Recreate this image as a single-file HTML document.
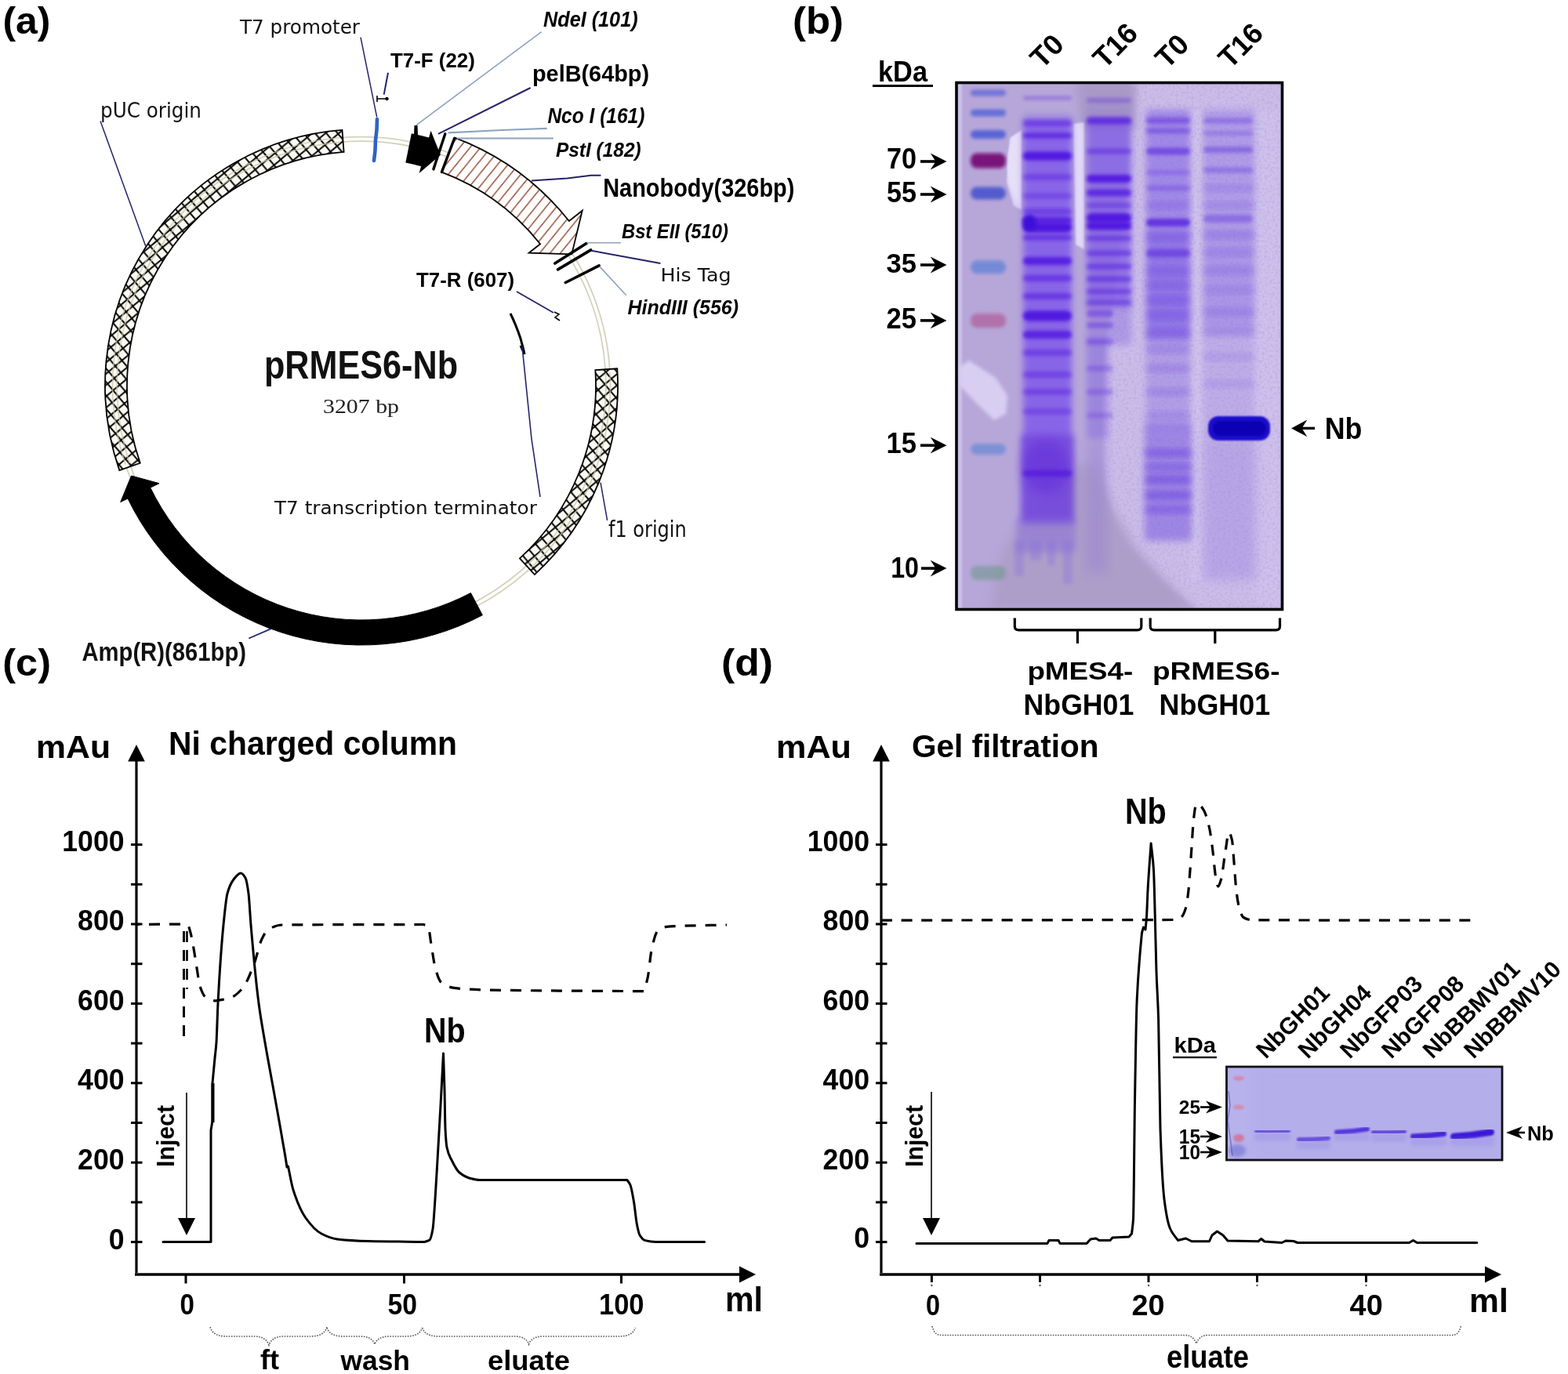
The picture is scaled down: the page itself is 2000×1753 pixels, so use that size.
<!DOCTYPE html>
<html><head><meta charset="utf-8"><title>Figure</title>
<style>html,body{margin:0;padding:0;background:#fff;} svg{display:block;}</style></head>
<body><svg width="2000" height="1753" viewBox="0 0 2000 1753">
<rect width="2000" height="1753" fill="#fff"/>
<defs>
<pattern id="xh" patternUnits="userSpaceOnUse" width="15.6" height="15.6" patternTransform="rotate(5)">
<rect width="15.6" height="15.6" fill="#fafaf3"/>
<path d="M0,0 L15.6,15.6 M15.6,0 L0,15.6 M-1,14.6 L1,16.6 M14.6,-1 L16.6,1" stroke="#000" stroke-width="1.9"/>
</pattern>
<pattern id="dh" patternUnits="userSpaceOnUse" width="14.5" height="14.5" patternTransform="rotate(-6)">
<rect width="14.5" height="14.5" fill="#fffdfb"/>
<path d="M0,14.5 L14.5,0 M-1,1 L1,-1 M13.5,15.5 L15.5,13.5" stroke="#8a4634" stroke-width="1.4"/>
</pattern>
</defs>
<circle cx="461.0" cy="492.0" r="311.8" fill="none" stroke="#d4d1bb" stroke-width="1.8"/>
<circle cx="461.0" cy="492.0" r="317.4" fill="none" stroke="#d4d1bb" stroke-width="1.8"/>
<path d="M152.38,600.08 A327,327 0 0 1 436.48,165.92 L438.58,193.84 A299,299 0 0 0 178.80,590.82 Z" fill="url(#xh)" stroke="#000" stroke-width="1.8"/>
<path d="M787.28,470.33 A327,327 0 0 1 681.92,733.09 L663.00,712.45 A299,299 0 0 0 759.34,472.18 Z" fill="url(#xh)" stroke="#000" stroke-width="1.8"/>
<path d="M165.3,590.9 A311.8,311.8 0 0 1 433.8,181.4" fill="none" stroke="#c9c5a8" stroke-width="1.6" opacity="0.75"/>
<path d="M772.4,475.7 A311.8,311.8 0 0 1 673.6,720.0" fill="none" stroke="#c9c5a8" stroke-width="1.6" opacity="0.75"/>
<path d="M160.0,592.7 A317.4,317.4 0 0 1 433.3,175.8" fill="none" stroke="#c9c5a8" stroke-width="1.6" opacity="0.75"/>
<path d="M778.0,475.4 A317.4,317.4 0 0 1 677.5,724.1" fill="none" stroke="#c9c5a8" stroke-width="1.6" opacity="0.75"/>
<path d="M615.37,784.80 A331,331 0 0 1 162.99,636.06 L153.72,640.54 L167.53,607.01 L203.06,616.69 L191.80,622.13 A299,299 0 0 0 600.45,756.49 Z" fill="#000" stroke="#000" stroke-width="1"/>
<path d="M579.92,175.61 A338,338 0 0 1 725.89,282.05 L742.74,268.70 L729.24,324.39 L674.56,322.74 L689.05,311.25 A291,291 0 0 0 563.39,219.61 Z" fill="url(#dh)" stroke="#000" stroke-width="1.8" stroke-linejoin="miter"/>
<path d="M525.63,171.45 A327,327 0 0 1 547.84,176.74 L549.70,169.99 L560.71,197.42 L536.42,218.20 L538.28,211.45 A291,291 0 0 0 518.52,206.74 Z" fill="#000" stroke="#000" stroke-width="2"/>
<path d="M528,172 L528.5,160 L532.5,160 L533,172 Z" fill="#000"/>
<line x1="552.9" y1="215.9" x2="567.8" y2="170.8" stroke="#000" stroke-width="3.4" stroke-linecap="round"/>
<line x1="563.4" y1="219.6" x2="579.6" y2="176.5" stroke="#000" stroke-width="3.4" stroke-linecap="round"/>
<line x1="707.8" y1="336.0" x2="748.0" y2="310.6" stroke="#000" stroke-width="3.6" stroke-linecap="round"/>
<line x1="711.5" y1="343.9" x2="753.7" y2="318.9" stroke="#000" stroke-width="3.6" stroke-linecap="round"/>
<line x1="721.3" y1="360.5" x2="764.1" y2="338.9" stroke="#000" stroke-width="3.6" stroke-linecap="round"/>
<path d="M481,152 L480.5,166 L479,179 L478.5,192 L477,205" fill="none" stroke="#2f63c6" stroke-width="4.6" stroke-linecap="round"/>
<path d="M481,122 L481,130 M481,126 L494,126" stroke="#000" stroke-width="1.6" fill="none"/>
<circle cx="493.5" cy="126" r="2.2" fill="#000"/>
<path d="M707,398 L713,401 L708,405 L714,409" stroke="#000" stroke-width="1.6" fill="none"/>
<path d="M651,400 C656,410 660,420 664,432 C666,440 668,446 669,452 M664,441 L669,452" stroke="#000" stroke-width="3" fill="none"/>
<path d="M460.0,47.7 L480.7,149.4" fill="none" stroke="#23236b" stroke-width="1.5"/>
<path d="M495.0,92.7 L489.7,120.6" fill="none" stroke="#23236b" stroke-width="2"/>
<path d="M690.6,40.6 L531.0,159.6" fill="none" stroke="#8da2bd" stroke-width="1.6"/>
<path d="M676.6,112.0 L559.0,170.8" fill="none" stroke="#23236b" stroke-width="2.0"/>
<path d="M571.6,169.4 L640.0,166.0 L697.6,163.8" fill="none" stroke="#8da2bd" stroke-width="2.2"/>
<path d="M582.8,176.4 L706.0,176.4" fill="none" stroke="#8da2bd" stroke-width="2.0"/>
<path d="M678.0,230.4 L723.6,227.6 L754.0,223.8 L766.4,223.8" fill="none" stroke="#23236b" stroke-width="2.0"/>
<path d="M748.3,309.8 L792.0,309.8" fill="none" stroke="#8da2bd" stroke-width="1.6"/>
<path d="M754.0,319.7 L842.4,335.9" fill="none" stroke="#23236b" stroke-width="2.0"/>
<path d="M765.4,340.6 L798.7,376.7" fill="none" stroke="#8da2bd" stroke-width="1.6"/>
<path d="M659.0,372.0 L706.0,399.0" fill="none" stroke="#23236b" stroke-width="1.8"/>
<path d="M666.0,442.0 L678.0,560.0 L689.0,634.0" fill="none" stroke="#23236b" stroke-width="1.6"/>
<path d="M128.0,154.4 L185.7,313.8" fill="none" stroke="#23236b" stroke-width="1.5"/>
<path d="M766.0,615.7 L774.6,664.0" fill="none" stroke="#23236b" stroke-width="1.5"/>
<path d="M345.3,802.3 L317.3,814.5" fill="none" stroke="#23236b" stroke-width="1.8"/>
<text x="306.0" y="43.2" font-family="'DejaVu Sans', Verdana, sans-serif" font-size="24.69" font-weight="normal" fill="#111" textLength="153.0" lengthAdjust="spacingAndGlyphs">T7 promoter</text>
<text x="498.0" y="85.5" font-family="'Liberation Sans', Arial, sans-serif" font-size="26.16" font-weight="bold" fill="#000" textLength="107.8" lengthAdjust="spacingAndGlyphs">T7-F (22)</text>
<text x="693.0" y="33.6" font-family="'Liberation Sans', Arial, sans-serif" font-size="26.74" font-weight="bold" font-style="italic" fill="#000" textLength="120.6" lengthAdjust="spacingAndGlyphs">NdeI (101)</text>
<text x="679.0" y="104.0" font-family="'Liberation Sans', Arial, sans-serif" font-size="30.23" font-weight="bold" fill="#000" textLength="149.0" lengthAdjust="spacingAndGlyphs">pelB(64bp)</text>
<text x="698.4" y="156.8" font-family="'Liberation Sans', Arial, sans-serif" font-size="26.74" font-weight="bold" font-style="italic" fill="#000" textLength="124.0" lengthAdjust="spacingAndGlyphs">Nco I (161)</text>
<text x="709.0" y="200.0" font-family="'Liberation Sans', Arial, sans-serif" font-size="25.58" font-weight="bold" font-style="italic" fill="#000" textLength="108.6" lengthAdjust="spacingAndGlyphs">PstI (182)</text>
<text x="769.2" y="251.3" font-family="'Liberation Sans', Arial, sans-serif" font-size="33.14" font-weight="bold" fill="#000" textLength="244.2" lengthAdjust="spacingAndGlyphs">Nanobody(326bp)</text>
<text x="793.0" y="303.6" font-family="'Liberation Sans', Arial, sans-serif" font-size="26.31" font-weight="bold" font-style="italic" fill="#000" textLength="135.8" lengthAdjust="spacingAndGlyphs">Bst EII (510)</text>
<text x="842.4" y="358.7" font-family="'DejaVu Sans', Verdana, sans-serif" font-size="22.22" font-weight="normal" fill="#111" textLength="90.2" lengthAdjust="spacingAndGlyphs">His Tag</text>
<text x="800.5" y="400.5" font-family="'Liberation Sans', Arial, sans-serif" font-size="26.31" font-weight="bold" font-style="italic" fill="#000" textLength="141.5" lengthAdjust="spacingAndGlyphs">HindIII (556)</text>
<text x="531.0" y="366.0" font-family="'Liberation Sans', Arial, sans-serif" font-size="26.16" font-weight="bold" fill="#000" textLength="125.0" lengthAdjust="spacingAndGlyphs">T7-R (607)</text>
<text x="337.0" y="483.0" font-family="'Liberation Sans', Arial, sans-serif" font-size="50.87" font-weight="bold" fill="#111" textLength="247.0" lengthAdjust="spacingAndGlyphs">pRMES6-Nb</text>
<text x="412" y="527" font-family="'Liberation Serif', Georgia, serif" font-size="25" fill="#222" textLength="97" lengthAdjust="spacingAndGlyphs">3207 bp</text>
<text x="128.0" y="149.8" font-family="'DejaVu Sans', Verdana, sans-serif" font-size="25.79" font-weight="normal" fill="#111" textLength="129.0" lengthAdjust="spacingAndGlyphs">pUC origin</text>
<text x="350.0" y="655.6" font-family="'DejaVu Sans', Verdana, sans-serif" font-size="23.46" font-weight="normal" fill="#111" textLength="334.8" lengthAdjust="spacingAndGlyphs">T7 transcription terminator</text>
<text x="776.0" y="685.0" font-family="'DejaVu Sans', Verdana, sans-serif" font-size="27.63" font-weight="normal" fill="#111" textLength="99.7" lengthAdjust="spacingAndGlyphs">f1 origin</text>
<text x="104.4" y="843.0" font-family="'Liberation Sans', Arial, sans-serif" font-size="32.70" font-weight="bold" fill="#111" textLength="209.6" lengthAdjust="spacingAndGlyphs">Amp(R)(861bp)</text>
<defs>
<filter id="b1" x="-20%" y="-50%" width="140%" height="200%"><feGaussianBlur stdDeviation="1.2"/></filter>
<filter id="b2" x="-20%" y="-80%" width="140%" height="260%"><feGaussianBlur stdDeviation="2.2"/></filter>
<filter id="b3" x="-20%" y="-50%" width="140%" height="200%"><feGaussianBlur stdDeviation="4"/></filter>
<filter id="b6" x="-30%" y="-30%" width="160%" height="160%"><feGaussianBlur stdDeviation="7"/></filter>
<filter id="speck" x="0" y="0" width="100%" height="100%">
<feTurbulence type="fractalNoise" baseFrequency="0.3" numOctaves="2" seed="7" result="n"/>
<feColorMatrix type="matrix" values="0 0 0 0 0.45  0 0 0 0 0.35  0 0 0 0 0.75  0 0 0 -2.2 1.25" in="n"/>
</filter>
<clipPath id="gclip"><rect x="1220.5" y="106" width="414.5" height="671"/></clipPath>
</defs>
<g clip-path="url(#gclip)">
<rect x="1220.5" y="106" width="414.5" height="671" fill="#b7a7d9"/>
<rect x="1221" y="106" width="6" height="671" fill="#d3c8f0" opacity="0.8" filter="url(#b1)"/>
<path d="M1440,106 L1635,106 L1635,777 L1527,777 L1487,745 L1432,690 L1410,630 L1407,520 L1410,440 L1422,372 L1440,214 Z" fill="#cbbde8" filter="url(#b2)"/>
<path d="M1372,106 L1450,106 L1448,165 L1380,165 Z" fill="#a898c6" opacity="0.8" filter="url(#b3)"/>
<path d="M1355,600 L1398,590 L1420,650 L1450,700 L1520,777 L1262,777 L1280,700 Z" fill="#ac9cc8" opacity="0.9" filter="url(#b6)"/>
<path d="M1288,176 L1303,166 L1303,268 L1293,262 L1284,232 Z" fill="#ddd3f6" filter="url(#b1)"/>
<path d="M1223,468 L1236,460 L1270,482 L1285,505 L1283,528 L1268,536 L1246,515 L1224,492 Z" fill="#d8cef2" filter="url(#b2)"/>
<rect x="1519" y="140" width="14" height="600" fill="#d2c5ec" opacity="0.8" filter="url(#b2)"/>
<rect x="1600" y="140" width="32" height="637" fill="#d0c3ee" opacity="0.7" filter="url(#b3)"/>
<clipPath id="spclip"><path d="M1440,106 L1635,106 L1635,777 L1527,777 L1487,745 L1432,690 L1410,630 L1407,520 L1410,440 L1422,372 L1440,214 Z"/></clipPath>
<g opacity="0.6" clip-path="url(#spclip)"><rect x="1400" y="106" width="235" height="671" filter="url(#speck)"/></g>
<path d="M1369,158 L1383,156 L1383,318 L1372,312 Z" fill="#e2dbf7" filter="url(#b1)"/>
<path d="M1290,176 L1302,168 L1302,265 L1287,235 L1284,205 Z" fill="#e6dff8" filter="url(#b1)"/>
<rect x="1383" y="108" width="62" height="52" fill="#a898c8" opacity="0.55" filter="url(#b3)"/>
<rect x="1305" y="145" width="62" height="15" rx="4" fill="#9a86dc" opacity="0.55" filter="url(#b3)"/>
<rect x="1305" y="152" width="62" height="408" rx="4" fill="#7d55ea" opacity="0.8" filter="url(#b3)"/>
<rect x="1302" y="555" width="68" height="113" rx="4" fill="#6a3ade" opacity="0.8" filter="url(#b3)"/>
<rect x="1296" y="660" width="76" height="45" rx="4" fill="#8466dc" opacity="0.45" filter="url(#b3)"/>
<rect x="1294" y="690" width="12" height="45" rx="4" fill="#8a70dc" opacity="0.35" filter="url(#b2)"/>
<rect x="1314" y="690" width="14" height="25" rx="4" fill="#8a70dc" opacity="0.35" filter="url(#b2)"/>
<rect x="1336" y="690" width="10" height="32" rx="4" fill="#8a70dc" opacity="0.35" filter="url(#b2)"/>
<rect x="1356" y="690" width="12" height="55" rx="4" fill="#8a70dc" opacity="0.35" filter="url(#b2)"/>
<rect x="1386" y="130" width="57" height="20" rx="4" fill="#9a86cc" opacity="0.45" filter="url(#b3)"/>
<rect x="1386" y="150" width="57" height="242" rx="4" fill="#7d58e6" opacity="0.72" filter="url(#b3)"/>
<rect x="1386" y="385" width="57" height="55" rx="4" fill="#8466e0" opacity="0.4" filter="url(#b3)"/>
<rect x="1386" y="430" width="28" height="130" rx="4" fill="#7d5ee0" opacity="0.45" filter="url(#b3)"/>
<rect x="1386" y="560" width="26" height="170" rx="4" fill="#8a70d8" opacity="0.3" filter="url(#b6)"/>
<rect x="1462" y="140" width="56" height="160" rx="4" fill="#7f5fe4" opacity="0.55" filter="url(#b3)"/>
<rect x="1462" y="295" width="56" height="140" rx="4" fill="#7654e4" opacity="0.68" filter="url(#b3)"/>
<rect x="1462" y="430" width="56" height="115" rx="4" fill="#8a70e2" opacity="0.4" filter="url(#b3)"/>
<rect x="1460" y="540" width="60" height="150" rx="4" fill="#7a5ae0" opacity="0.55" filter="url(#b3)"/>
<rect x="1535" y="140" width="65" height="160" rx="4" fill="#8a6ee4" opacity="0.42" filter="url(#b3)"/>
<rect x="1535" y="295" width="65" height="130" rx="4" fill="#8468e4" opacity="0.45" filter="url(#b3)"/>
<rect x="1535" y="420" width="65" height="140" rx="4" fill="#9a84e4" opacity="0.28" filter="url(#b3)"/>
<rect x="1535" y="560" width="67" height="180" rx="4" fill="#8f76e0" opacity="0.32" filter="url(#b6)"/>
<rect x="1305.0" y="122.5" width="62.0" height="5.0" rx="2.5" fill="#5016e0" opacity="0.30" filter="url(#b2)"/>
<rect x="1305.0" y="153.0" width="62.0" height="8.0" rx="4.0" fill="#5016e0" opacity="0.45" filter="url(#b2)"/>
<rect x="1305.0" y="169.5" width="62.0" height="7.0" rx="3.5" fill="#5016e0" opacity="0.70" filter="url(#b2)"/>
<rect x="1305.0" y="193.5" width="62.0" height="11.0" rx="5.5" fill="#5016e0" opacity="0.95" filter="url(#b2)"/>
<rect x="1305.0" y="222.0" width="62.0" height="8.0" rx="4.0" fill="#5016e0" opacity="0.40" filter="url(#b2)"/>
<rect x="1305.0" y="246.5" width="62.0" height="7.0" rx="3.5" fill="#5016e0" opacity="0.35" filter="url(#b2)"/>
<rect x="1305.0" y="266.0" width="62.0" height="8.0" rx="4.0" fill="#5016e0" opacity="0.45" filter="url(#b2)"/>
<rect x="1305.0" y="276.5" width="62.0" height="9.0" rx="4.5" fill="#5016e0" opacity="0.80" filter="url(#b2)"/>
<rect x="1305.0" y="283.5" width="62.0" height="13.0" rx="6.5" fill="#5016e0" opacity="1.00" filter="url(#b2)"/>
<rect x="1305.0" y="299.5" width="62.0" height="7.0" rx="3.5" fill="#5016e0" opacity="0.60" filter="url(#b2)"/>
<rect x="1305.0" y="328.0" width="62.0" height="10.0" rx="5.0" fill="#5016e0" opacity="0.85" filter="url(#b2)"/>
<rect x="1305.0" y="351.0" width="62.0" height="8.0" rx="4.0" fill="#5016e0" opacity="0.55" filter="url(#b2)"/>
<rect x="1305.0" y="374.0" width="62.0" height="8.0" rx="4.0" fill="#5016e0" opacity="0.55" filter="url(#b2)"/>
<rect x="1305.0" y="396.5" width="62.0" height="13.0" rx="6.5" fill="#5016e0" opacity="0.95" filter="url(#b2)"/>
<rect x="1305.0" y="422.0" width="62.0" height="10.0" rx="5.0" fill="#5016e0" opacity="0.80" filter="url(#b2)"/>
<rect x="1305.0" y="446.0" width="62.0" height="8.0" rx="4.0" fill="#5016e0" opacity="0.45" filter="url(#b2)"/>
<rect x="1305.0" y="474.0" width="62.0" height="8.0" rx="4.0" fill="#5016e0" opacity="0.40" filter="url(#b2)"/>
<rect x="1305.0" y="496.0" width="62.0" height="8.0" rx="4.0" fill="#5016e0" opacity="0.40" filter="url(#b2)"/>
<rect x="1305.0" y="521.0" width="62.0" height="8.0" rx="4.0" fill="#5016e0" opacity="0.35" filter="url(#b2)"/>
<rect x="1305.0" y="600.0" width="62.0" height="8.0" rx="4.0" fill="#5016e0" opacity="0.75" filter="url(#b2)"/>
<ellipse cx="1313" cy="284" rx="9" ry="10" fill="#3a0cd8" opacity="0.9" filter="url(#b2)"/>
<ellipse cx="1334" cy="595" rx="30" ry="34" fill="#5a1ad8" opacity="0.4" filter="url(#b6)"/>
<rect x="1386.0" y="125.0" width="57.0" height="6.0" rx="3.0" fill="#5016e0" opacity="0.30" filter="url(#b2)"/>
<rect x="1386.0" y="149.5" width="57.0" height="9.0" rx="4.5" fill="#5016e0" opacity="0.70" filter="url(#b2)"/>
<rect x="1386.0" y="189.5" width="57.0" height="7.0" rx="3.5" fill="#5016e0" opacity="0.45" filter="url(#b2)"/>
<rect x="1386.0" y="223.0" width="57.0" height="10.0" rx="5.0" fill="#5016e0" opacity="0.90" filter="url(#b2)"/>
<rect x="1386.0" y="241.5" width="57.0" height="9.0" rx="4.5" fill="#5016e0" opacity="0.75" filter="url(#b2)"/>
<rect x="1386.0" y="258.5" width="57.0" height="7.0" rx="3.5" fill="#5016e0" opacity="0.40" filter="url(#b2)"/>
<rect x="1386.0" y="272.0" width="57.0" height="12.0" rx="6.0" fill="#5016e0" opacity="0.95" filter="url(#b2)"/>
<rect x="1386.0" y="282.5" width="57.0" height="11.0" rx="5.5" fill="#5016e0" opacity="0.95" filter="url(#b2)"/>
<rect x="1386.0" y="300.5" width="57.0" height="7.0" rx="3.5" fill="#5016e0" opacity="0.50" filter="url(#b2)"/>
<rect x="1386.0" y="319.5" width="57.0" height="7.0" rx="3.5" fill="#5016e0" opacity="0.50" filter="url(#b2)"/>
<rect x="1386.0" y="336.5" width="57.0" height="7.0" rx="3.5" fill="#5016e0" opacity="0.50" filter="url(#b2)"/>
<rect x="1386.0" y="352.5" width="57.0" height="7.0" rx="3.5" fill="#5016e0" opacity="0.50" filter="url(#b2)"/>
<rect x="1386.0" y="368.5" width="57.0" height="7.0" rx="3.5" fill="#5016e0" opacity="0.45" filter="url(#b2)"/>
<rect x="1386.0" y="382.5" width="57.0" height="7.0" rx="3.5" fill="#5016e0" opacity="0.40" filter="url(#b2)"/>
<rect x="1386.0" y="395.5" width="34.0" height="9.0" rx="4.5" fill="#5a24e0" opacity="0.45" filter="url(#b2)"/>
<rect x="1386.0" y="411.0" width="34.0" height="8.0" rx="4.0" fill="#5a24e0" opacity="0.40" filter="url(#b2)"/>
<rect x="1386.0" y="432.5" width="34.0" height="7.0" rx="3.5" fill="#5a24e0" opacity="0.35" filter="url(#b2)"/>
<rect x="1386.0" y="466.5" width="34.0" height="7.0" rx="3.5" fill="#5a24e0" opacity="0.30" filter="url(#b2)"/>
<rect x="1386.0" y="496.5" width="34.0" height="7.0" rx="3.5" fill="#5a24e0" opacity="0.30" filter="url(#b2)"/>
<rect x="1386.0" y="526.5" width="34.0" height="7.0" rx="3.5" fill="#5a24e0" opacity="0.25" filter="url(#b2)"/>
<rect x="1462.0" y="150.0" width="56.0" height="8.0" rx="4.0" fill="#6436e0" opacity="0.55" filter="url(#b2)"/>
<rect x="1462.0" y="163.5" width="56.0" height="7.0" rx="3.5" fill="#6436e0" opacity="0.50" filter="url(#b2)"/>
<rect x="1462.0" y="188.5" width="56.0" height="9.0" rx="4.5" fill="#6436e0" opacity="0.70" filter="url(#b2)"/>
<rect x="1462.0" y="217.0" width="56.0" height="6.0" rx="3.0" fill="#6436e0" opacity="0.30" filter="url(#b2)"/>
<rect x="1462.0" y="236.5" width="56.0" height="7.0" rx="3.5" fill="#6436e0" opacity="0.35" filter="url(#b2)"/>
<rect x="1462.0" y="279.0" width="56.0" height="10.0" rx="5.0" fill="#6436e0" opacity="1.00" filter="url(#b2)"/>
<rect x="1462.0" y="318.0" width="56.0" height="10.0" rx="5.0" fill="#6436e0" opacity="0.70" filter="url(#b2)"/>
<rect x="1462.0" y="258.0" width="56.0" height="8.0" rx="4.0" fill="#6a40e0" opacity="0.30" filter="url(#b3)"/>
<rect x="1462.0" y="299.0" width="56.0" height="8.0" rx="4.0" fill="#6a40e0" opacity="0.30" filter="url(#b3)"/>
<rect x="1462.0" y="341.5" width="56.0" height="9.0" rx="4.5" fill="#6a40e0" opacity="0.35" filter="url(#b3)"/>
<rect x="1462.0" y="360.0" width="56.0" height="8.0" rx="4.0" fill="#6a40e0" opacity="0.35" filter="url(#b3)"/>
<rect x="1462.0" y="378.5" width="56.0" height="9.0" rx="4.5" fill="#6a40e0" opacity="0.40" filter="url(#b3)"/>
<rect x="1462.0" y="397.5" width="56.0" height="9.0" rx="4.5" fill="#6a40e0" opacity="0.40" filter="url(#b3)"/>
<rect x="1462.0" y="420.0" width="56.0" height="8.0" rx="4.0" fill="#6a40e0" opacity="0.35" filter="url(#b3)"/>
<rect x="1462.0" y="442.0" width="56.0" height="8.0" rx="4.0" fill="#6a40e0" opacity="0.30" filter="url(#b3)"/>
<rect x="1462.0" y="466.0" width="56.0" height="8.0" rx="4.0" fill="#6a40e0" opacity="0.30" filter="url(#b3)"/>
<rect x="1462.0" y="496.0" width="56.0" height="8.0" rx="4.0" fill="#6a40e0" opacity="0.30" filter="url(#b3)"/>
<rect x="1462.0" y="526.0" width="56.0" height="8.0" rx="4.0" fill="#6a40e0" opacity="0.25" filter="url(#b3)"/>
<rect x="1460.0" y="573.5" width="60.0" height="9.0" rx="4.5" fill="#6436e0" opacity="0.50" filter="url(#b3)"/>
<rect x="1460.0" y="592.0" width="60.0" height="8.0" rx="4.0" fill="#6436e0" opacity="0.45" filter="url(#b3)"/>
<rect x="1460.0" y="607.0" width="60.0" height="10.0" rx="5.0" fill="#6436e0" opacity="0.55" filter="url(#b3)"/>
<rect x="1460.0" y="627.0" width="60.0" height="10.0" rx="5.0" fill="#6436e0" opacity="0.55" filter="url(#b3)"/>
<rect x="1460.0" y="645.5" width="60.0" height="9.0" rx="4.5" fill="#6436e0" opacity="0.45" filter="url(#b3)"/>
<rect x="1535.0" y="150.5" width="63.0" height="7.0" rx="3.5" fill="#6a44e0" opacity="0.45" filter="url(#b2)"/>
<rect x="1535.0" y="167.0" width="63.0" height="6.0" rx="3.0" fill="#6a44e0" opacity="0.35" filter="url(#b2)"/>
<rect x="1535.0" y="187.0" width="63.0" height="8.0" rx="4.0" fill="#6a44e0" opacity="0.55" filter="url(#b2)"/>
<rect x="1535.0" y="213.5" width="63.0" height="7.0" rx="3.5" fill="#6a44e0" opacity="0.45" filter="url(#b2)"/>
<rect x="1535.0" y="274.0" width="63.0" height="10.0" rx="5.0" fill="#6a44e0" opacity="0.50" filter="url(#b2)"/>
<rect x="1535.0" y="236.5" width="65.0" height="7.0" rx="3.5" fill="#7048e0" opacity="0.30" filter="url(#b3)"/>
<rect x="1535.0" y="258.5" width="65.0" height="7.0" rx="3.5" fill="#7048e0" opacity="0.30" filter="url(#b3)"/>
<rect x="1535.0" y="296.0" width="65.0" height="8.0" rx="4.0" fill="#7048e0" opacity="0.25" filter="url(#b3)"/>
<rect x="1535.0" y="318.0" width="65.0" height="8.0" rx="4.0" fill="#7048e0" opacity="0.30" filter="url(#b3)"/>
<rect x="1535.0" y="340.5" width="65.0" height="9.0" rx="4.5" fill="#7048e0" opacity="0.30" filter="url(#b3)"/>
<rect x="1535.0" y="366.0" width="65.0" height="8.0" rx="4.0" fill="#7048e0" opacity="0.25" filter="url(#b3)"/>
<rect x="1535.0" y="393.5" width="65.0" height="9.0" rx="4.5" fill="#7048e0" opacity="0.30" filter="url(#b3)"/>
<rect x="1535.0" y="421.0" width="65.0" height="8.0" rx="4.0" fill="#7048e0" opacity="0.25" filter="url(#b3)"/>
<rect x="1535.0" y="451.0" width="65.0" height="8.0" rx="4.0" fill="#7048e0" opacity="0.20" filter="url(#b3)"/>
<rect x="1535.0" y="486.0" width="65.0" height="8.0" rx="4.0" fill="#7048e0" opacity="0.20" filter="url(#b3)"/>
<rect x="1541" y="531" width="79" height="31" rx="13" fill="#1d08cc" filter="url(#b1)"/>
<rect x="1547" y="537" width="68" height="19" rx="9" fill="#0a00b4" filter="url(#b1)"/>
<rect x="1238.0" y="114.6" width="45.0" height="8.0" rx="4.0" fill="#5a62d8" opacity="0.75" filter="url(#b2)"/>
<rect x="1238.0" y="139.5" width="45.0" height="9.0" rx="4.5" fill="#5060d8" opacity="0.80" filter="url(#b2)"/>
<rect x="1238.0" y="165.9" width="45.0" height="11.0" rx="5.5" fill="#4a58d4" opacity="0.85" filter="url(#b2)"/>
<rect x="1238.0" y="195.5" width="45.0" height="19.0" rx="8.0" fill="#760a76" opacity="0.95" filter="url(#b2)"/>
<rect x="1238.0" y="238.5" width="45.0" height="16.0" rx="8.0" fill="#4a54cc" opacity="0.90" filter="url(#b2)"/>
<rect x="1238.0" y="332.3" width="45.0" height="17.0" rx="8.0" fill="#6a86d6" opacity="0.85" filter="url(#b2)"/>
<rect x="1238.0" y="400.0" width="45.0" height="18.0" rx="8.0" fill="#b0609c" opacity="0.75" filter="url(#b2)"/>
<rect x="1238.0" y="566.0" width="45.0" height="14.0" rx="7.0" fill="#6a8ad6" opacity="0.75" filter="url(#b2)"/>
<rect x="1238.0" y="722.0" width="45.0" height="18.0" rx="8.0" fill="#7a9a98" opacity="0.70" filter="url(#b2)"/>
</g>
<rect x="1220" y="105.5" width="415.5" height="672" fill="none" stroke="#000" stroke-width="3.6"/>
<text x="1120.0" y="104.0" font-family="'Liberation Sans', Arial, sans-serif" font-size="37.04" font-weight="bold" fill="#000" textLength="63.0" lengthAdjust="spacingAndGlyphs">kDa</text>
<line x1="1113" y1="109.5" x2="1190" y2="109.5" stroke="#000" stroke-width="3"/>
<text x="1131.0" y="214.6" font-family="'Liberation Sans', Arial, sans-serif" font-size="36.72" font-weight="bold" fill="#000" textLength="38.0" lengthAdjust="spacingAndGlyphs">70</text>
<path d="M1174,206 L1195.5,206" stroke="#000" stroke-width="3.6"/><path d="M1186.8,195.6 L1207.5,206 L1186.8,216.4 L1193.5,206 Z" fill="#000"/>
<text x="1131.0" y="257.6" font-family="'Liberation Sans', Arial, sans-serif" font-size="36.72" font-weight="bold" fill="#000" textLength="38.0" lengthAdjust="spacingAndGlyphs">55</text>
<path d="M1174,248 L1195.5,248" stroke="#000" stroke-width="3.6"/><path d="M1186.8,237.6 L1207.5,248 L1186.8,258.4 L1193.5,248 Z" fill="#000"/>
<text x="1130.5" y="348.1" font-family="'Liberation Sans', Arial, sans-serif" font-size="35.88" font-weight="bold" fill="#000" textLength="38.5" lengthAdjust="spacingAndGlyphs">35</text>
<path d="M1174,338 L1195.5,338" stroke="#000" stroke-width="3.6"/><path d="M1186.8,327.6 L1207.5,338 L1186.8,348.4 L1193.5,338 Z" fill="#000"/>
<text x="1130.5" y="419.0" font-family="'Liberation Sans', Arial, sans-serif" font-size="37.01" font-weight="bold" fill="#000" textLength="38.5" lengthAdjust="spacingAndGlyphs">25</text>
<path d="M1174,408.9 L1195.5,408.9" stroke="#000" stroke-width="3.6"/><path d="M1186.8,398.5 L1207.5,408.9 L1186.8,419.29999999999995 L1193.5,408.9 Z" fill="#000"/>
<text x="1130.5" y="578.3" font-family="'Liberation Sans', Arial, sans-serif" font-size="36.02" font-weight="bold" fill="#000" textLength="38.5" lengthAdjust="spacingAndGlyphs">15</text>
<path d="M1174,568.2 L1195.5,568.2" stroke="#000" stroke-width="3.6"/><path d="M1186.8,557.8000000000001 L1207.5,568.2 L1186.8,578.6 L1193.5,568.2 Z" fill="#000"/>
<text x="1136.2" y="737.3" font-family="'Liberation Sans', Arial, sans-serif" font-size="36.30" font-weight="bold" fill="#000" textLength="35.8" lengthAdjust="spacingAndGlyphs">10</text>
<path d="M1175,725.1 L1195.5,725.1" stroke="#000" stroke-width="3.6"/><path d="M1186.8,714.7 L1207.5,725.1 L1186.8,735.5 L1193.5,725.1 Z" fill="#000"/>
<path d="M1677,546.4 L1657,546.4" stroke="#000" stroke-width="3.4"/><path d="M1667.4,535.6 L1647,546.4 L1667.4,557.1999999999999 L1660.5,546.4 Z" fill="#000"/>
<text x="1689.7" y="559.7" font-family="'Liberation Sans', Arial, sans-serif" font-size="38.81" font-weight="bold" fill="#000" textLength="47.7" lengthAdjust="spacingAndGlyphs">Nb</text>
<path d="M1294.3,788.5 L1294.3,799 Q1294.3,803.8 1299.3,803.8 L1450.8,803.8 Q1455.8,803.8 1455.8,799 L1455.8,788.5 M1374.4,803.8 L1374.4,821" fill="none" stroke="#000" stroke-width="3.2"/>
<path d="M1467.2,788.5 L1467.2,799 Q1467.2,803.8 1472.2,803.8 L1627.5,803.8 Q1632.5,803.8 1632.5,799 L1632.5,788.5 M1549.8,803.8 L1549.8,821" fill="none" stroke="#000" stroke-width="3.2"/>
<text x="1310.4" y="867.4" font-family="'Liberation Sans', Arial, sans-serif" font-size="31.69" font-weight="bold" fill="#000" textLength="134.9" lengthAdjust="spacingAndGlyphs">pMES4-</text>
<text x="1305.6" y="911.7" font-family="'Liberation Sans', Arial, sans-serif" font-size="36.77" font-weight="bold" fill="#000" textLength="140.7" lengthAdjust="spacingAndGlyphs">NbGH01</text>
<text x="1470.0" y="867.4" font-family="'Liberation Sans', Arial, sans-serif" font-size="31.69" font-weight="bold" fill="#000" textLength="162.5" lengthAdjust="spacingAndGlyphs">pRMES6-</text>
<text x="1478.6" y="911.7" font-family="'Liberation Sans', Arial, sans-serif" font-size="36.77" font-weight="bold" fill="#000" textLength="141.5" lengthAdjust="spacingAndGlyphs">NbGH01</text>
<text transform="translate(1329,89) rotate(-45)" font-family="'Liberation Sans', Arial, sans-serif" font-size="36.5" font-weight="bold">T0</text>
<text transform="translate(1409,89) rotate(-45)" font-family="'Liberation Sans', Arial, sans-serif" font-size="36.5" font-weight="bold">T16</text>
<text transform="translate(1488.5,89) rotate(-45)" font-family="'Liberation Sans', Arial, sans-serif" font-size="36.5" font-weight="bold">T0</text>
<text transform="translate(1569,89) rotate(-45)" font-family="'Liberation Sans', Arial, sans-serif" font-size="36.5" font-weight="bold">T16</text>
<line x1="174" y1="969" x2="174" y2="1624" stroke="#000" stroke-width="3.2"/>
<path d="M163.2,971.5 L174,950 L184.8,971.5 Z" fill="#000"/>
<line x1="172" y1="1626" x2="946" y2="1626" stroke="#000" stroke-width="3.4"/>
<path d="M943,1615.5 L964,1626 L943,1636.5 Z" fill="#000"/>
<line x1="167" y1="1584.6" x2="181.5" y2="1584.6" stroke="#000" stroke-width="3"/>
<line x1="167" y1="1533.9" x2="181.5" y2="1533.9" stroke="#000" stroke-width="3"/>
<line x1="167" y1="1483.2" x2="181.5" y2="1483.2" stroke="#000" stroke-width="3"/>
<line x1="167" y1="1432.5" x2="181.5" y2="1432.5" stroke="#000" stroke-width="3"/>
<line x1="167" y1="1381.8" x2="181.5" y2="1381.8" stroke="#000" stroke-width="3"/>
<line x1="167" y1="1331.1" x2="181.5" y2="1331.1" stroke="#000" stroke-width="3"/>
<line x1="167" y1="1280.4" x2="181.5" y2="1280.4" stroke="#000" stroke-width="3"/>
<line x1="167" y1="1229.7" x2="181.5" y2="1229.7" stroke="#000" stroke-width="3"/>
<line x1="167" y1="1179.0" x2="181.5" y2="1179.0" stroke="#000" stroke-width="3"/>
<line x1="167" y1="1128.3" x2="181.5" y2="1128.3" stroke="#000" stroke-width="3"/>
<line x1="167" y1="1077.6" x2="181.5" y2="1077.6" stroke="#000" stroke-width="3"/>
<line x1="237" y1="1627" x2="237" y2="1637.5" stroke="#000" stroke-width="3"/>
<line x1="515.5" y1="1627" x2="515.5" y2="1637.5" stroke="#000" stroke-width="3"/>
<line x1="792.5" y1="1627" x2="792.5" y2="1637.5" stroke="#000" stroke-width="3"/>
<text x="79.3" y="1085.6" font-family="'Liberation Sans', Arial, sans-serif" font-size="36.72" font-weight="bold" fill="#000" textLength="79.2" lengthAdjust="spacingAndGlyphs">1000</text>
<text x="99.1" y="1186.6" font-family="'Liberation Sans', Arial, sans-serif" font-size="36.72" font-weight="bold" fill="#000" textLength="59.4" lengthAdjust="spacingAndGlyphs">800</text>
<text x="99.1" y="1288.6" font-family="'Liberation Sans', Arial, sans-serif" font-size="36.72" font-weight="bold" fill="#000" textLength="59.4" lengthAdjust="spacingAndGlyphs">600</text>
<text x="99.1" y="1389.6" font-family="'Liberation Sans', Arial, sans-serif" font-size="36.72" font-weight="bold" fill="#000" textLength="59.4" lengthAdjust="spacingAndGlyphs">400</text>
<text x="99.1" y="1491.6" font-family="'Liberation Sans', Arial, sans-serif" font-size="36.72" font-weight="bold" fill="#000" textLength="59.4" lengthAdjust="spacingAndGlyphs">200</text>
<text x="138.7" y="1593.6" font-family="'Liberation Sans', Arial, sans-serif" font-size="36.72" font-weight="bold" fill="#000" textLength="19.8" lengthAdjust="spacingAndGlyphs">0</text>
<text x="229.6" y="1677.2" font-family="'Liberation Sans', Arial, sans-serif" font-size="36.16" font-weight="bold" fill="#000" textLength="18.4" lengthAdjust="spacingAndGlyphs">0</text>
<text x="494.5" y="1677.2" font-family="'Liberation Sans', Arial, sans-serif" font-size="36.16" font-weight="bold" fill="#000" textLength="37.5" lengthAdjust="spacingAndGlyphs">50</text>
<text x="764.0" y="1677.2" font-family="'Liberation Sans', Arial, sans-serif" font-size="36.16" font-weight="bold" fill="#000" textLength="57.5" lengthAdjust="spacingAndGlyphs">100</text>
<text x="925.0" y="1673.4" font-family="'Liberation Sans', Arial, sans-serif" font-size="44.44" font-weight="bold" fill="#000" textLength="48.0" lengthAdjust="spacingAndGlyphs">ml</text>
<text x="46.0" y="967.0" font-family="'Liberation Sans', Arial, sans-serif" font-size="41.42" font-weight="bold" fill="#000" textLength="95.0" lengthAdjust="spacingAndGlyphs">mAu</text>
<text x="215.0" y="963.0" font-family="'Liberation Sans', Arial, sans-serif" font-size="42.73" font-weight="bold" fill="#000" textLength="368.0" lengthAdjust="spacingAndGlyphs">Ni charged column</text>
<text x="541.0" y="1329.5" font-family="'Liberation Sans', Arial, sans-serif" font-size="44.62" font-weight="bold" fill="#000" textLength="52.6" lengthAdjust="spacingAndGlyphs">Nb</text>
<line x1="238" y1="1394" x2="238" y2="1556" stroke="#000" stroke-width="1.6"/>
<path d="M227,1554 L249,1554 L238,1576 Z" fill="#000"/>
<text transform="translate(222,1489) rotate(-90)" font-family="'Liberation Sans', Arial, sans-serif" font-size="30.5" font-weight="bold" textLength="79" lengthAdjust="spacingAndGlyphs">Inject</text>
<path d="M268,1693 C272,1705 283,1705 293,1705 L325,1705 C335,1705 341,1710 343,1716 C345,1710 351,1705 361,1705 L392,1705 C402,1705 413,1705 417,1693" fill="none" stroke="#555" stroke-width="1.6" stroke-dasharray="1.6 1.6"/>
<path d="M417,1694 C421,1705 432,1705 442,1705 L460,1705 C470,1705 476,1709 478,1715 C480,1709 486,1705 496,1705 L513.6,1705 C523.6,1705 534.6,1705 538.6,1694" fill="none" stroke="#555" stroke-width="1.6" stroke-dasharray="1.6 1.6"/>
<path d="M538.6,1694 C542.6,1705 553.6,1705 563.6,1705 L656.5,1705 C666.5,1705 672.5,1709 674.5,1715 C676.5,1709 682.5,1705 692.5,1705 L785.4,1705 C795.4,1705 806.4,1705 810.4,1694" fill="none" stroke="#555" stroke-width="1.6" stroke-dasharray="1.6 1.6"/>
<text x="332.0" y="1747.0" font-family="'Liberation Sans', Arial, sans-serif" font-size="35.67" font-weight="bold" fill="#000" textLength="24.0" lengthAdjust="spacingAndGlyphs">ft</text>
<text x="434.5" y="1748.4" font-family="'Liberation Sans', Arial, sans-serif" font-size="34.16" font-weight="bold" fill="#000" textLength="88.5" lengthAdjust="spacingAndGlyphs">wash</text>
<text x="622.0" y="1748.4" font-family="'Liberation Sans', Arial, sans-serif" font-size="34.16" font-weight="bold" fill="#000" textLength="105.0" lengthAdjust="spacingAndGlyphs">eluate</text>
<path d="M208,1584.4 L269,1584.4 L269,1442 L271,1430 L271,1382 L271.00,1382.00 C272.00,1371.33 273.00,1360.30 274.00,1350.00 C274.67,1343.13 275.33,1339.52 276.00,1330.00 C276.67,1320.48 277.33,1292.77 278.00,1280.00 C280.33,1235.32 282.67,1203.56 285.00,1180.00 C286.67,1163.17 288.33,1146.12 290.00,1140.00 C292.67,1130.21 295.33,1125.43 298.00,1122.00 C301.00,1118.14 304.00,1114.00 307.00,1114.00 C309.00,1114.00 311.00,1116.51 313.00,1120.00 C314.33,1122.33 315.67,1130.09 317.00,1140.00 C318.00,1147.43 319.00,1168.27 320.00,1180.00 C323.33,1219.10 326.67,1254.58 330.00,1280.00 C332.67,1300.34 335.33,1314.30 338.00,1330.00 C341.00,1347.67 344.00,1363.33 347.00,1380.00 C350.00,1396.67 353.00,1413.04 356.00,1430.00 C358.67,1445.07 361.33,1460.67 364.00,1476.00 L366,1489 L367.5,1488 L367.50,1488.00 C369.67,1498.00 371.83,1511.11 374.00,1518.00 C379.33,1534.96 384.67,1546.51 390.00,1554.00 C396.67,1563.36 403.33,1570.54 410.00,1574.00 C416.67,1577.46 423.33,1580.23 430.00,1581.00 C443.33,1582.53 456.67,1583.20 470.00,1583.50 C494.00,1584.03 518.00,1584.10 542.00,1584.40 L542.00,1584.40 C544.00,1583.60 546.00,1583.52 548.00,1582.00 C549.33,1580.99 550.67,1575.52 552.00,1568.00 C553.00,1562.36 554.00,1544.39 555.00,1530.00 C556.00,1515.61 557.00,1497.05 558.00,1480.00 C559.33,1457.26 560.67,1434.22 562.00,1410.00 C563.17,1388.80 564.33,1366.00 565.50,1344.00 L565.50,1344.00 C566.00,1359.33 566.50,1370.68 567.00,1390.00 C567.33,1402.88 567.67,1433.08 568.00,1440.00 C568.67,1453.85 569.33,1460.75 570.00,1464.00 C572.00,1473.76 574.00,1475.91 576.00,1480.00 C579.33,1486.81 582.67,1493.25 586.00,1496.00 C590.67,1499.85 595.33,1502.28 600.00,1503.50 C604.00,1504.54 608.00,1505.60 612.00,1505.60 C674.67,1505.60 737.33,1505.60 800.00,1505.60 L800.00,1505.60 C801.33,1507.73 802.67,1508.84 804.00,1512.00 C805.53,1515.63 807.07,1524.96 808.60,1534.00 C809.80,1541.07 811.00,1554.74 812.20,1561.00 C813.40,1567.26 814.60,1573.34 815.80,1575.40 C818.20,1579.51 820.60,1581.99 823.00,1582.60 C827.50,1583.75 832.00,1584.40 836.50,1584.40 C857.20,1584.40 877.90,1584.40 898.60,1584.40" fill="none" stroke="#000" stroke-width="3" stroke-linejoin="round" stroke-linecap="round"/>
<line x1="271.5" y1="1432" x2="271.5" y2="1382" stroke="#000" stroke-width="4"/>
<path d="M175,1179.4 L236,1179 L236.00,1179.00 C237.33,1179.67 238.67,1179.82 240.00,1181.00 C241.00,1181.89 242.00,1186.29 243.00,1190.00 C244.33,1194.94 245.67,1202.59 247.00,1210.00 C248.33,1217.41 249.67,1227.01 251.00,1235.00 C252.33,1242.99 253.67,1253.86 255.00,1258.00 C257.33,1265.24 259.67,1270.29 262.00,1272.00 C266.00,1274.93 270.00,1275.33 274.00,1277.00 L274.00,1277.00 C280.67,1275.67 287.33,1275.19 294.00,1273.00 C299.33,1271.25 304.67,1266.35 310.00,1260.00 C314.67,1254.45 319.33,1242.11 324.00,1230.00 C327.33,1221.35 330.67,1204.72 334.00,1198.00 C336.67,1192.63 339.33,1187.58 342.00,1186.00 C348.00,1182.44 354.00,1180.05 360.00,1180.00 C420.00,1179.55 480.00,1179.67 540.00,1179.50 L540.00,1179.50 C542.00,1180.33 544.00,1180.37 546.00,1182.00 C547.47,1183.19 548.93,1199.12 550.40,1207.60 C551.93,1216.46 553.47,1228.39 555.00,1234.00 C557.47,1243.02 559.93,1250.94 562.40,1253.00 C567.93,1257.62 573.47,1259.71 579.00,1260.40 C592.67,1262.10 606.33,1262.76 620.00,1263.00 C687.20,1264.20 754.40,1264.13 821.60,1264.70 L821.60,1264.70 C823.20,1258.47 824.80,1254.15 826.40,1246.00 C827.93,1238.19 829.47,1219.50 831.00,1212.40 C833.47,1200.98 835.93,1190.67 838.40,1188.40 C842.40,1184.72 846.40,1182.70 850.40,1182.40 C875.93,1180.48 901.47,1180.80 927.00,1180.00" fill="none" stroke="#000" stroke-width="3.2" stroke-dasharray="14 12" stroke-dashoffset="11"/>
<line x1="234.5" y1="1188" x2="234.5" y2="1328" stroke="#000" stroke-width="3" stroke-dasharray="14 10"/>
<line x1="238.5" y1="1188" x2="238.5" y2="1262" stroke="#000" stroke-width="2.6" stroke-dasharray="14 10"/>
<line x1="1124" y1="969" x2="1124" y2="1624" stroke="#000" stroke-width="3.2"/>
<path d="M1113.2,971.5 L1124,950 L1134.8,971.5 Z" fill="#000"/>
<line x1="1122" y1="1626" x2="1897" y2="1626" stroke="#000" stroke-width="3.4"/>
<path d="M1894,1615.5 L1915,1626 L1894,1636.5 Z" fill="#000"/>
<line x1="1117" y1="1584.6" x2="1131.5" y2="1584.6" stroke="#000" stroke-width="3"/>
<line x1="1117" y1="1533.9" x2="1131.5" y2="1533.9" stroke="#000" stroke-width="3"/>
<line x1="1117" y1="1483.2" x2="1131.5" y2="1483.2" stroke="#000" stroke-width="3"/>
<line x1="1117" y1="1432.5" x2="1131.5" y2="1432.5" stroke="#000" stroke-width="3"/>
<line x1="1117" y1="1381.8" x2="1131.5" y2="1381.8" stroke="#000" stroke-width="3"/>
<line x1="1117" y1="1331.1" x2="1131.5" y2="1331.1" stroke="#000" stroke-width="3"/>
<line x1="1117" y1="1280.4" x2="1131.5" y2="1280.4" stroke="#000" stroke-width="3"/>
<line x1="1117" y1="1229.7" x2="1131.5" y2="1229.7" stroke="#000" stroke-width="3"/>
<line x1="1117" y1="1179.0" x2="1131.5" y2="1179.0" stroke="#000" stroke-width="3"/>
<line x1="1117" y1="1128.3" x2="1131.5" y2="1128.3" stroke="#000" stroke-width="3"/>
<line x1="1117" y1="1077.6" x2="1131.5" y2="1077.6" stroke="#000" stroke-width="3"/>
<line x1="1188.4" y1="1627" x2="1188.4" y2="1636" stroke="#000" stroke-width="3"/>
<circle cx="1188.4" cy="1640" r="1.2" fill="#555"/>
<line x1="1326.5" y1="1627" x2="1326.5" y2="1636" stroke="#000" stroke-width="3"/>
<circle cx="1326.5" cy="1640" r="1.2" fill="#555"/>
<line x1="1465" y1="1627" x2="1465" y2="1636" stroke="#000" stroke-width="3"/>
<circle cx="1465" cy="1640" r="1.2" fill="#555"/>
<line x1="1603.5" y1="1627" x2="1603.5" y2="1636" stroke="#000" stroke-width="3"/>
<circle cx="1603.5" cy="1640" r="1.2" fill="#555"/>
<line x1="1742.5" y1="1627" x2="1742.5" y2="1636" stroke="#000" stroke-width="3"/>
<circle cx="1742.5" cy="1640" r="1.2" fill="#555"/>
<text x="1029.8" y="1085.6" font-family="'Liberation Sans', Arial, sans-serif" font-size="36.72" font-weight="bold" fill="#000" textLength="79.2" lengthAdjust="spacingAndGlyphs">1000</text>
<text x="1049.6" y="1186.6" font-family="'Liberation Sans', Arial, sans-serif" font-size="36.72" font-weight="bold" fill="#000" textLength="59.4" lengthAdjust="spacingAndGlyphs">800</text>
<text x="1049.6" y="1288.6" font-family="'Liberation Sans', Arial, sans-serif" font-size="36.72" font-weight="bold" fill="#000" textLength="59.4" lengthAdjust="spacingAndGlyphs">600</text>
<text x="1049.6" y="1389.6" font-family="'Liberation Sans', Arial, sans-serif" font-size="36.72" font-weight="bold" fill="#000" textLength="59.4" lengthAdjust="spacingAndGlyphs">400</text>
<text x="1049.6" y="1491.6" font-family="'Liberation Sans', Arial, sans-serif" font-size="36.72" font-weight="bold" fill="#000" textLength="59.4" lengthAdjust="spacingAndGlyphs">200</text>
<text x="1089.2" y="1591.6" font-family="'Liberation Sans', Arial, sans-serif" font-size="36.72" font-weight="bold" fill="#000" textLength="19.8" lengthAdjust="spacingAndGlyphs">0</text>
<text x="1181.0" y="1677.6" font-family="'Liberation Sans', Arial, sans-serif" font-size="36.72" font-weight="bold" fill="#000" textLength="18.0" lengthAdjust="spacingAndGlyphs">0</text>
<text x="1443.4" y="1677.6" font-family="'Liberation Sans', Arial, sans-serif" font-size="36.72" font-weight="bold" fill="#000" textLength="42.0" lengthAdjust="spacingAndGlyphs">20</text>
<text x="1721.6" y="1677.6" font-family="'Liberation Sans', Arial, sans-serif" font-size="36.72" font-weight="bold" fill="#000" textLength="42.1" lengthAdjust="spacingAndGlyphs">40</text>
<text x="1874.0" y="1674.3" font-family="'Liberation Sans', Arial, sans-serif" font-size="43.21" font-weight="bold" fill="#000" textLength="49.8" lengthAdjust="spacingAndGlyphs">ml</text>
<text x="990.0" y="967.0" font-family="'Liberation Sans', Arial, sans-serif" font-size="41.42" font-weight="bold" fill="#000" textLength="96.0" lengthAdjust="spacingAndGlyphs">mAu</text>
<text x="1163.0" y="965.6" font-family="'Liberation Sans', Arial, sans-serif" font-size="41.02" font-weight="bold" fill="#000" textLength="238.4" lengthAdjust="spacingAndGlyphs">Gel filtration</text>
<text x="1435.0" y="1051.0" font-family="'Liberation Sans', Arial, sans-serif" font-size="45.49" font-weight="bold" fill="#000" textLength="52.8" lengthAdjust="spacingAndGlyphs">Nb</text>
<text x="1488.0" y="1745.0" font-family="'Liberation Sans', Arial, sans-serif" font-size="39.78" font-weight="bold" fill="#000" textLength="105.0" lengthAdjust="spacingAndGlyphs">eluate</text>
<line x1="1188" y1="1393" x2="1188" y2="1556" stroke="#000" stroke-width="1.6"/>
<path d="M1177,1554 L1199,1554 L1188,1576 Z" fill="#000"/>
<text transform="translate(1177,1489) rotate(-90)" font-family="'Liberation Sans', Arial, sans-serif" font-size="30.5" font-weight="bold" textLength="79" lengthAdjust="spacingAndGlyphs">Inject</text>
<path d="M1189,1692 C1192,1703.5 1197,1703.5 1203,1703.5 L1511.9,1703.5 C1519.9,1703.5 1523.9,1709 1525.9,1714 C1527.9,1709 1531.9,1703.5 1539.9,1703.5 L1849.4,1703.5 C1855.4,1703.5 1860.4,1703.5 1863.4,1692" fill="none" stroke="#555" stroke-width="1.6" stroke-dasharray="1.6 1.6"/>
<path d="M1169,1586.4 L1336,1586.4 L1338,1582.5 L1350,1582.5 L1352,1586.4 L1386,1586.4 L1391,1581 L1398,1580 L1402,1582.5 L1416,1582.5 L1419,1579 L1440,1578 L1443.5,1574 L1443.50,1574.00 C1444.17,1567.67 1444.83,1566.24 1445.50,1555.00 C1446.17,1543.76 1446.83,1445.30 1447.50,1405.00 C1448.33,1354.63 1449.17,1300.82 1450.00,1280.00 C1451.20,1250.02 1452.40,1238.21 1453.60,1222.50 C1454.57,1209.85 1455.53,1200.83 1456.50,1190.00 L1458.5,1183 L1461,1186 L1461.00,1186.00 C1461.50,1180.67 1462.00,1177.25 1462.50,1170.00 C1463.00,1162.75 1463.50,1145.20 1464.00,1136.00 C1465.37,1110.86 1466.73,1096.00 1468.10,1076.00 L1468.10,1076.00 C1469.23,1087.33 1470.37,1091.46 1471.50,1110.00 C1472.10,1119.81 1472.70,1148.88 1473.30,1171.00 C1473.87,1191.89 1474.43,1222.57 1475.00,1239.60 C1475.87,1265.64 1476.73,1271.04 1477.60,1300.00 C1478.40,1326.74 1479.20,1416.54 1480.00,1440.00 C1481.67,1488.88 1483.33,1516.45 1485.00,1530.00 C1487.50,1550.33 1490.00,1561.58 1492.50,1567.50 C1495.83,1575.39 1499.17,1577.50 1502.50,1582.50 L1512.5,1580 L1520,1583.75 L1542.5,1583.75 L1546,1576 L1552.5,1571 L1560,1576 L1566,1583 L1605,1583.75 L1608.75,1580.5 L1613,1584 L1635,1585.5 L1640,1583 L1650,1583.5 L1655,1585.5 L1797.5,1585.5 L1802.5,1582.5 L1807.5,1585.5 L1883.75,1585.5" fill="none" stroke="#000" stroke-width="3" stroke-linejoin="round" stroke-linecap="round"/>
<path d="M1124,1174.2 L1500,1173.5 L1500.00,1173.50 C1502.33,1172.33 1504.67,1171.93 1507.00,1170.00 C1508.67,1168.62 1510.33,1165.08 1512.00,1160.00 C1513.17,1156.44 1514.33,1149.21 1515.50,1140.00 C1516.33,1133.42 1517.17,1121.16 1518.00,1110.00 C1518.67,1101.07 1519.33,1089.67 1520.00,1080.00 C1520.83,1067.92 1521.67,1052.09 1522.50,1045.00 C1523.50,1036.50 1524.50,1028.06 1525.50,1027.00 C1526.33,1026.11 1527.17,1025.50 1528.00,1025.50 C1528.87,1025.50 1529.73,1026.61 1530.60,1027.40 C1532.30,1028.96 1534.00,1031.06 1535.70,1034.20 C1538.00,1038.45 1540.30,1046.16 1542.60,1056.50 C1544.03,1062.95 1545.47,1074.48 1546.90,1085.60 C1548.10,1094.91 1549.30,1111.33 1550.50,1118.00 C1551.57,1123.93 1552.63,1131.00 1553.70,1131.00 C1554.97,1131.00 1556.23,1126.27 1557.50,1122.00 C1559.37,1115.71 1561.23,1096.53 1563.10,1085.60 C1564.57,1077.01 1566.03,1062.00 1567.50,1062.00 C1568.83,1062.00 1570.17,1066.30 1571.50,1072.00 C1572.40,1075.85 1573.30,1092.09 1574.20,1102.70 C1575.13,1113.71 1576.07,1129.65 1577.00,1137.00 C1578.37,1147.77 1579.73,1155.70 1581.10,1160.00 C1582.73,1165.13 1584.37,1169.55 1586.00,1170.50 C1589.67,1172.64 1593.33,1173.79 1597.00,1173.80 C1692.33,1174.18 1787.67,1174.07 1883.00,1174.20" fill="none" stroke="#000" stroke-width="3.2" stroke-dasharray="14 11.6"/>
<clipPath id="iclip"><rect x="1565.5" y="1362" width="349.5" height="117"/></clipPath>
<g clip-path="url(#iclip)">
<rect x="1565.5" y="1362" width="349.5" height="117" fill="#b7b1ec"/>
<rect x="1600" y="1362" width="320" height="117" fill="#aea8e8" opacity="0.35" filter="url(#b6)"/>
<ellipse cx="1580" cy="1375.7" rx="7" ry="3" fill="#e07c9c" opacity="0.75" filter="url(#b1)"/>
<ellipse cx="1580" cy="1412.6" rx="7" ry="3" fill="#e07c9c" opacity="0.7" filter="url(#b1)"/>
<ellipse cx="1580" cy="1452" rx="7" ry="5" fill="#d86a8c" opacity="0.75" filter="url(#b1)"/>
<ellipse cx="1578" cy="1468" rx="11" ry="8" fill="#6a6ad0" opacity="0.55" filter="url(#b2)"/>
<path d="M1567,1392 L1569,1410 L1566,1430 L1569,1450 L1572,1475" stroke="#5050a8" stroke-width="1.6" fill="none" opacity="0.55"/>
<path d="M1602.75,1443.5 Q1623.0,1444.75 1643.25,1443" fill="none" stroke="#3a18d8" stroke-width="5.5" stroke-linecap="round" opacity="0.62" filter="url(#b1)"/>
<rect x="1600" y="1445.25" width="46" height="10.5" rx="3" fill="#7a6ae0" opacity="0.18" filter="url(#b2)"/>
<path d="M1657.0,1454 Q1675.5,1454.5 1694.0,1452" fill="none" stroke="#3a18d8" stroke-width="6" stroke-linecap="round" opacity="0.62" filter="url(#b1)"/>
<rect x="1654" y="1455.0" width="43" height="11" rx="3" fill="#7a6ae0" opacity="0.18" filter="url(#b2)"/>
<path d="M1705.0,1444.5 Q1724.5,1444.0 1744.0,1440.5" fill="none" stroke="#3a18d8" stroke-width="6" stroke-linecap="round" opacity="0.8" filter="url(#b1)"/>
<rect x="1702" y="1444.5" width="45" height="11" rx="3" fill="#7a6ae0" opacity="0.18" filter="url(#b2)"/>
<path d="M1752.0,1444.5 Q1771.5,1445.5 1791.0,1443.5" fill="none" stroke="#3a18d8" stroke-width="6" stroke-linecap="round" opacity="0.66" filter="url(#b1)"/>
<rect x="1749" y="1446.0" width="45" height="11" rx="3" fill="#7a6ae0" opacity="0.18" filter="url(#b2)"/>
<path d="M1802.5,1450 Q1822.0,1449.75 1841.5,1446.5" fill="none" stroke="#3a18d8" stroke-width="7" stroke-linecap="round" opacity="0.9" filter="url(#b1)"/>
<rect x="1799" y="1450.25" width="46" height="12" rx="3" fill="#7a6ae0" opacity="0.18" filter="url(#b2)"/>
<path d="M1854.25,1450 Q1878.0,1448.75 1901.75,1444.5" fill="none" stroke="#3a18d8" stroke-width="8.5" stroke-linecap="round" opacity="1.0" filter="url(#b1)"/>
<rect x="1850" y="1449.25" width="56" height="13.5" rx="3" fill="#7a6ae0" opacity="0.18" filter="url(#b2)"/>
</g>
<rect x="1564.5" y="1361" width="351.5" height="119" fill="none" stroke="#111" stroke-width="2.8"/>
<text x="1497.5" y="1342.5" font-family="'Liberation Sans', Arial, sans-serif" font-size="27.43" font-weight="bold" fill="#000" textLength="53.5" lengthAdjust="spacingAndGlyphs">kDa</text>
<line x1="1496" y1="1349" x2="1552" y2="1349" stroke="#222" stroke-width="2.6"/>
<text x="1503.8" y="1420.8" font-family="'Liberation Sans', Arial, sans-serif" font-size="24.29" font-weight="bold" fill="#000" textLength="27.2" lengthAdjust="spacingAndGlyphs">25</text>
<text x="1503.8" y="1458.5" font-family="'Liberation Sans', Arial, sans-serif" font-size="25.14" font-weight="bold" fill="#000" textLength="27.2" lengthAdjust="spacingAndGlyphs">15</text>
<text x="1503.8" y="1478.5" font-family="'Liberation Sans', Arial, sans-serif" font-size="26.55" font-weight="bold" fill="#000" textLength="27.2" lengthAdjust="spacingAndGlyphs">10</text>
<path d="M1538,1404.5 L1559,1412.5 L1538,1420.5 L1544,1412.5 Z" fill="#000"/><line x1="1531" y1="1412.5" x2="1550" y2="1412.5" stroke="#000" stroke-width="2.6"/>
<path d="M1538,1442 L1559,1450 L1538,1458 L1544,1450 Z" fill="#000"/><line x1="1531" y1="1450" x2="1550" y2="1450" stroke="#000" stroke-width="2.6"/>
<path d="M1538,1462 L1559,1470 L1538,1478 L1544,1470 Z" fill="#000"/><line x1="1531" y1="1470" x2="1550" y2="1470" stroke="#000" stroke-width="2.6"/>
<path d="M1942,1437 L1921,1445 L1942,1453 L1936,1445 Z" fill="#000"/><line x1="1930" y1="1445" x2="1945" y2="1445" stroke="#000" stroke-width="2.6"/>
<text x="1948.0" y="1455.3" font-family="'Liberation Sans', Arial, sans-serif" font-size="26.60" font-weight="bold" fill="#000" textLength="33.8" lengthAdjust="spacingAndGlyphs">Nb</text>
<text transform="translate(1614.5,1352) rotate(-45)" font-family="'Liberation Sans', Arial, sans-serif" font-size="29.8" font-weight="bold">NbGH01</text>
<text transform="translate(1668,1352) rotate(-45)" font-family="'Liberation Sans', Arial, sans-serif" font-size="29.8" font-weight="bold">NbGH04</text>
<text transform="translate(1721.5,1352) rotate(-45)" font-family="'Liberation Sans', Arial, sans-serif" font-size="29.8" font-weight="bold">NbGFP03</text>
<text transform="translate(1774.5,1352) rotate(-45)" font-family="'Liberation Sans', Arial, sans-serif" font-size="29.8" font-weight="bold">NbGFP08</text>
<text transform="translate(1827,1352) rotate(-45)" font-family="'Liberation Sans', Arial, sans-serif" font-size="29.8" font-weight="bold">NbBBMV01</text>
<text transform="translate(1879.5,1352) rotate(-45)" font-family="'Liberation Sans', Arial, sans-serif" font-size="29.8" font-weight="bold">NbBBMV10</text>
<text x="3.5" y="43.2" font-family="'Liberation Sans', Arial, sans-serif" font-size="47.5" font-weight="bold" textLength="61.0" lengthAdjust="spacingAndGlyphs">(a)</text>
<text x="1011" y="43.2" font-family="'Liberation Sans', Arial, sans-serif" font-size="47.5" font-weight="bold" textLength="65.0" lengthAdjust="spacingAndGlyphs">(b)</text>
<text x="3.3" y="862.3" font-family="'Liberation Sans', Arial, sans-serif" font-size="47.5" font-weight="bold" textLength="61.7" lengthAdjust="spacingAndGlyphs">(c)</text>
<text x="920" y="862.3" font-family="'Liberation Sans', Arial, sans-serif" font-size="47.5" font-weight="bold" textLength="66.0" lengthAdjust="spacingAndGlyphs">(d)</text>
</svg></body></html>
